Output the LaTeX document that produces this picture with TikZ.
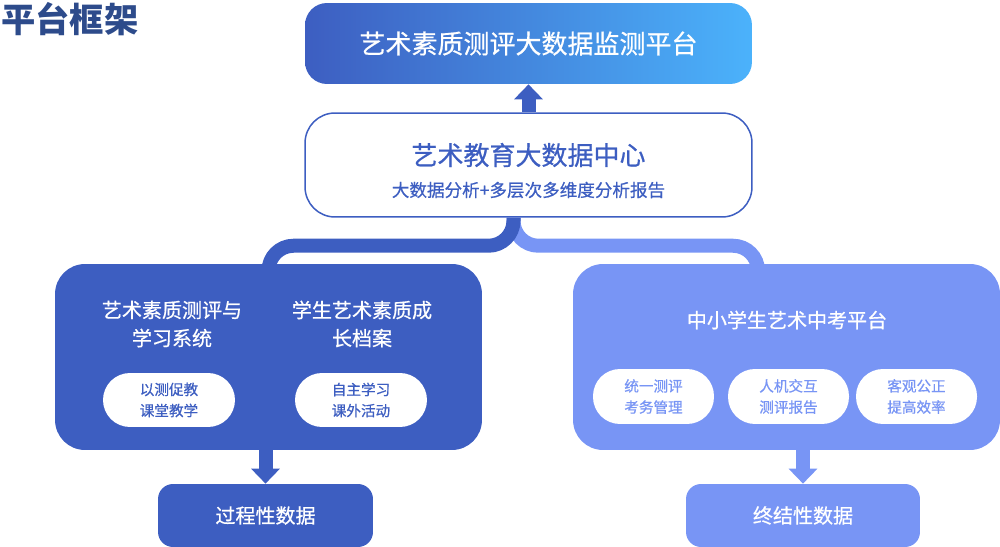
\documentclass[tikz,border=0pt]{standalone}
\usepackage{fontspec}
\setmainfont{Noto Sans CJK SC}[UprightFeatures={FakeBold=0.6}]
\usetikzlibrary{arrows.meta,calc}
\definecolor{deepblue}{HTML}{3D5EC1}
\definecolor{paleblue}{HTML}{7895F5}
\definecolor{skyblue}{HTML}{4BB2FB}
\definecolor{inkblue}{HTML}{2D4B8B}
\newcommand{\PtSize}[2]{\fontsize{#1pt}{#2pt}\selectfont}

\begin{document}
\begin{tikzpicture}[x=0.02cm,y=-0.02cm,
  panel/.style={rounded corners=0.6cm,inner sep=0pt,minimum width=8.54cm,minimum height=3.72cm},
  pill/.style={fill=white,rounded corners=0.54cm,inner sep=0pt,align=center,font=\PtSize{8.3}{12}},
  label/.style={text=white,align=center,font=\PtSize{11.4}{16}},
  pipe/.style={line width=0.28cm,rounded corners=0.5cm},
  bigarrow/.style={line width=0.28cm,-{Triangle[width=0.56cm,length=0.3cm]}}]
\useasboundingbox (0,0) rectangle (1000,547);

\node[anchor=west,inner sep=0pt,text=inkblue,font=\PtSize{19.5}{22}\bfseries] (head) at (1,19) {平台框架};

\node[rounded corners=0.44cm,minimum width=8.94cm,minimum height=1.62cm,left color=deepblue,right color=skyblue,
  text=white,font=\PtSize{14.8}{18}] (plat) at (528.5,43.5) {艺术素质测评大数据监测平台};

\node[rounded corners=0.6cm,minimum width=8.94cm,minimum height=2.08cm,fill=white,draw=deepblue,line width=0.03cm] (cen) at (528.5,165) {};
\node[text=deepblue,font=\PtSize{14.8}{18}] (centitle) at (528.5,155) {艺术教育大数据中心};
\node[text=deepblue,font=\PtSize{10}{12}] (censub) at (528.5,190) {大数据分析+多层次多维度分析报告};

\node[panel,fill=deepblue] (lbox) at (268.5,357) {};
\node[panel,fill=paleblue] (rbox) at (786.5,357) {};

\node[label] (lsys) at (172,324) {艺术素质测评与\\学习系统};
\node[label] (lfile) at (362,324) {学生艺术素质成\\长档案};
\node[pill,text=deepblue,minimum width=2.64cm,minimum height=1.08cm] (lp1) at (169,400) {以测促教\\课堂教学};
\node[pill,text=deepblue,minimum width=2.64cm,minimum height=1.08cm] (lp2) at (361,400) {自主学习\\课外活动};

\node[label] (rexam) at (787,320) {中小学生艺术中考平台};
\node[pill,text=paleblue,minimum width=2.42cm,minimum height=1.1cm] (rp1) at (653.5,396.5) {统一测评\\考务管理};
\node[pill,text=paleblue,minimum width=2.42cm,minimum height=1.1cm] (rp2) at (788.5,396.5) {人机交互\\测评报告};
\node[pill,text=paleblue,minimum width=2.42cm,minimum height=1.1cm] (rp3) at (916.5,396.5) {客观公正\\提高效率};

\node[label,fill=deepblue,rounded corners=0.3cm,minimum width=4.3cm,minimum height=1.26cm] (lres) at (265.5,515.5) {过程性数据};
\node[label,fill=paleblue,rounded corners=0.3cm,minimum width=4.68cm,minimum height=1.26cm] (rres) at (803,515.5) {终结性数据};

\draw[pipe,paleblue] ([xshift=-0.3cm]cen.south) -- ++(0,28) -| ([xshift=-0.57cm,yshift=-0.2cm]rbox.north);
\draw[pipe,deepblue] ([xshift=-0.3cm]cen.south) -- ++(0,28) -| ([yshift=-0.2cm]lbox.north);

\draw[bigarrow,deepblue] (cen.north) -- (plat.south);
\draw[bigarrow,deepblue] (lbox.south -| lres.north) -- (lres.north);
\draw[bigarrow,paleblue] (rbox.south -| rres.north) -- (rres.north);
\end{tikzpicture}
\end{document}
